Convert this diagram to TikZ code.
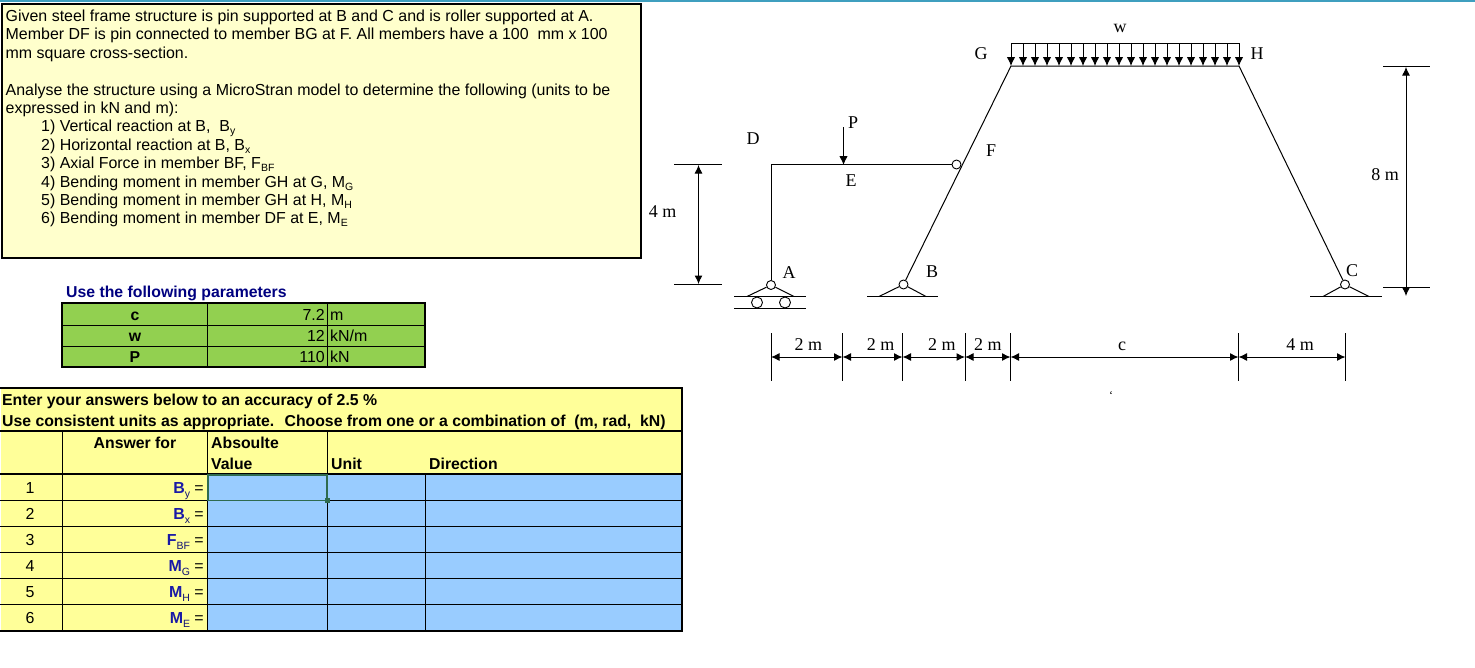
\documentclass[tikz,border=0pt]{standalone}
\usepackage{fontspec}
\setmainfont{Liberation Serif}
\setsansfont{Liberation Sans}
\usetikzlibrary{positioning,arrows.meta}

\definecolor{notefill}{HTML}{FFFFCC}
\definecolor{ansfill}{HTML}{FFFF99}
\definecolor{parfill}{HTML}{92D050}
\definecolor{cellfill}{HTML}{99CCFF}
\definecolor{navytext}{HTML}{000080}
\definecolor{bluetext}{HTML}{1A1AA6}
\definecolor{selcell}{HTML}{2F6B4F}
\definecolor{topbar}{HTML}{3F9FBF}

\newcommand{\subtxt}[1]{\raisebox{-3.5pt}{\fontsize{10.5}{10.5}\selectfont #1}}
\newcommand{\anslab}[2]{\textcolor{bluetext}{\textbf{#1}}{\color{bluetext!70!black}\subtxt{#2}}~=}

\tikzset{
    sheet/.style={font=\sffamily\fontsize{15.95}{15.95}\selectfont, inner sep=0pt, anchor=base west},
    sheetb/.style={sheet, font=\sffamily\bfseries\fontsize{15.8}{15.8}\selectfont},
    framelab/.style={font=\fontsize{18}{18}\selectfont, inner sep=0pt},
    pinj/.style={circle, draw, fill=white, inner sep=0pt, minimum size=9pt, line width=0.9pt},
    roller/.style={circle, draw, fill=white, inner sep=0pt, minimum size=11pt, line width=0.9pt},
    member/.style={line width=1pt},
    loadarrow/.style={line width=1pt, -{Latex[length=9pt,width=8.5pt]}},
    dimen/.style={line width=1pt, {Latex[length=8.5pt,width=8pt]}-{Latex[length=8.5pt,width=8pt]}},
    thinrule/.style={line width=1pt},
    thickrule/.style={line width=2.2pt}
}

\begin{document}
\begin{tikzpicture}[x=1pt, y=-1pt]
    \useasboundingbox (0,0) rectangle (1475,667);
    \fill[topbar] (0,0) rectangle (1475,2);

    % text box
    \draw[fill=notefill, line width=2pt] (2,4) rectangle (641,258);
    \node[sheet] (t1) at (5.5,21) {Given steel frame structure is pin supported at B and C and is roller supported at A.};
    \node[sheet] (t2) at (5.5,39.5) {Member DF is pin connected to member BG at F. All members have a 100~ mm x 100};
    \node[sheet] (t3) at (5.5,58) {mm square cross-section.};
    \node[sheet] (t4) at (5.5,95) {Analyse the structure using a MicroStran model to determine the following (units to be};
    \node[sheet] (t5) at (5.5,113) {expressed in kN and m):};
    \node[sheet] (q1) at (41,131) {1) Vertical reaction at B,~ B\subtxt{y}};
    \node[sheet] (q2) at (41,150) {2) Horizontal reaction at B, B\subtxt{x}};
    \node[sheet] (q3) at (41,168) {3) Axial Force in member BF, F\subtxt{BF}};
    \node[sheet] (q4) at (41,187) {4) Bending moment in member GH at G, M\subtxt{G}};
    \node[sheet] (q5) at (41,205) {5) Bending moment in member GH at H, M\subtxt{H}};
    \node[sheet] (q6) at (41,223) {6) Bending moment in member DF at E, M\subtxt{E}};

    % parameters
    \node[sheetb, text=navytext] (parhead) at (66,297) {Use the following parameters};
    \fill[parfill] (62,303) rectangle (425,367);
    \draw[thinrule] (62,325) -- (425,325) (62,346) -- (425,346) (207,303) -- (207,367) (327,303) -- (327,367);
    \draw[thickrule] (62,303) rectangle (425,367);
    \foreach \nm/\val/\un/\yy in {c/7.2/m/320, w/12/kN\slash m/341, P/110/kN/362}{
        \node[sheetb, anchor=base] (par\nm) at (135,\yy) {\nm};
        \node[sheet, anchor=base east] (val\nm) at (325,\yy) {\val};
        \node[sheet] (un\nm) at (330,\yy) {\un};
    }

    % answers
    \fill[ansfill] (1,388) rectangle (682,631);
    \fill[cellfill] (207,474) rectangle (682,631);
    \draw[thinrule] (62,431) -- (62,631) (207,431) -- (207,631) (327,431) -- (327,631) (425,474) -- (425,631);
    \foreach \yy in {500.5,526.5,552.5,578.5,604.5}{
        \draw[thinrule] (0,\yy) -- (682,\yy);
    }
    \draw[thickrule] (0,388) -- (682,388) -- (682,631) -- (0,631) (0,431) -- (682,431) (0,474) -- (682,474);
    \draw[selcell, line width=1.6pt] (208,475) rectangle (327,500.5);
    \fill[selcell] (325,498) rectangle (330,503);
    \node[sheetb] (a1) at (2,405) {Enter your answers below to an accuracy of 2.5 \%};
    \node[sheetb] (a2) at (2,426) {Use consistent units as appropriate.~ Choose from one or a combination of~ (m, rad,~ kN)};
    \node[sheetb, anchor=base] (h1) at (135,448) {Answer for};
    \node[sheetb] (h2) at (211,448) {Absoulte};
    \node[sheetb] (h3) at (211,469) {Value};
    \node[sheetb] (h4) at (331,469) {Unit};
    \node[sheetb] (h5) at (429,469) {Direction};
    \foreach \n/\bg/\sm in {1/B/y, 2/B/x, 3/F/BF, 4/M/G, 5/M/H, 6/M/E}{
        \pgfmathsetmacro{\yy}{467.5+26*\n}
        \node[sheet, anchor=base] (n\n) at (30,\yy) {\n};
        \node[sheet, anchor=base east] (lab\n) at (204,\yy) {\anslab{\bg}{\sm}};
    }

    % frame
    \coordinate (D) at (771,164.5);
    \coordinate (G) at (1011,66);
    \coordinate (H) at (1239,66);
    \node[pinj] (pF) at (956.5,164.5) {};
    \node[pinj] (pA) at (771,285) {};
    \node[pinj] (pB) at (903.5,284.5) {};
    \node[pinj] (pC) at (1345,284.5) {};
    \draw[member] (pA) -- (D) -- (pF);
    \draw[member] (pB) -- (G) -- (H) -- (pC);

    % supports
    \coordinate (aL) at (747,296.5);
    \coordinate (aR) at (794,296.5);
    \coordinate (bL) at (879,296.5);
    \coordinate (bR) at (926,296.5);
    \coordinate (cL) at (1323,296.5);
    \coordinate (cR) at (1369,296.5);
    \draw[member] (pA) -- (aL) (pA) -- (aR) (pB) -- (bL) (pB) -- (bR) (pC) -- (cL) (pC) -- (cR);
    \draw[member] (734,296.5) -- (806,296.5) (734,308.5) -- (806,308.5);
    \draw[member] (867,296.5) -- (938,296.5) (1310,296.5) -- (1382,296.5);
    \node[roller] (r1) at (757,302.5) {};
    \node[roller] (r2) at (785,302.5) {};

    % loads
    \coordinate (Ptop) at (843.5,127);
    \coordinate (E) at (843.5,165);
    \draw[loadarrow] (Ptop) -- (E);
    \coordinate (wL) at (1011,43);
    \coordinate (wR) at (1239,43);
    \draw[member] (wL) -- (wR);
    \foreach \i in {0,...,19}{
        \pgfmathsetmacro{\lx}{1011+12*\i}
        \coordinate (lt\i) at (\lx,43);
        \coordinate (lb\i) at (\lx,66);
        \draw[loadarrow] (lt\i) -- (lb\i);
    }

    % labels
    \foreach \nm/\xx/\yy in {D/753/138.5, E/851/180.5, P/853/122.5, F/991/150.5, G/981/53.5, H/1257/53.5, w/1120/28.5, A/789/272.5, B/932/271.5, C/1352/270.5}{
        \node[framelab] (lab\nm) at (\xx,\yy) {\nm};
    }
    \node[framelab, font=\fontsize{12}{12}\selectfont] (tick) at (1111,395) {`};

    % dimensions
    \foreach \nm/\xx in {a/771,b/842.5,c/902.5,d/965,e/1010.5,f/1238.5,g/1345.5}{
        \coordinate (d\nm) at (\xx,357);
        \coordinate (d\nm t) at (\xx,333);
        \coordinate (d\nm b) at (\xx,381);
        \draw[member] (d\nm t) -- (d\nm b);
    }
    \draw[dimen] (da) -- node[framelab, above=6pt, xshift=1.5pt] (m1) {2 m} (db);
    \draw[dimen] (db) -- node[framelab, above=6pt, xshift=8pt] (m2) {2 m} (dc);
    \draw[dimen] (dc) -- node[framelab, above=6pt, xshift=8pt] (m3) {2 m} (dd);
    \draw[dimen] (dd) -- node[framelab, above=6pt] (m4) {2 m} (de);
    \draw[dimen] (de) -- node[framelab, above=6pt, xshift=-2.5pt] (m5) {c} (df);
    \draw[dimen] (df) -- node[framelab, above=6pt, xshift=8pt] (m6) {4 m} (dg);

    \draw[member] (674,164.5) -- (722,164.5) (674,284) -- (722,284);
    \coordinate (v1t) at (698.5,165);
    \coordinate (v1b) at (698.5,284);
    \draw[dimen] (v1t) -- (v1b);
    \node[framelab] (m7) at (662.5,211.5) {4 m};
    \draw[member] (1383,66.5) -- (1430,66.5) (1383,287.5) -- (1430,287.5);
    \coordinate (v2t) at (1406,67);
    \coordinate (v2b) at (1406,296);
    \draw[dimen] (v2t) -- (v2b);
    \node[framelab] (m8) at (1385,174.5) {8 m};
\end{tikzpicture}
\end{document}
